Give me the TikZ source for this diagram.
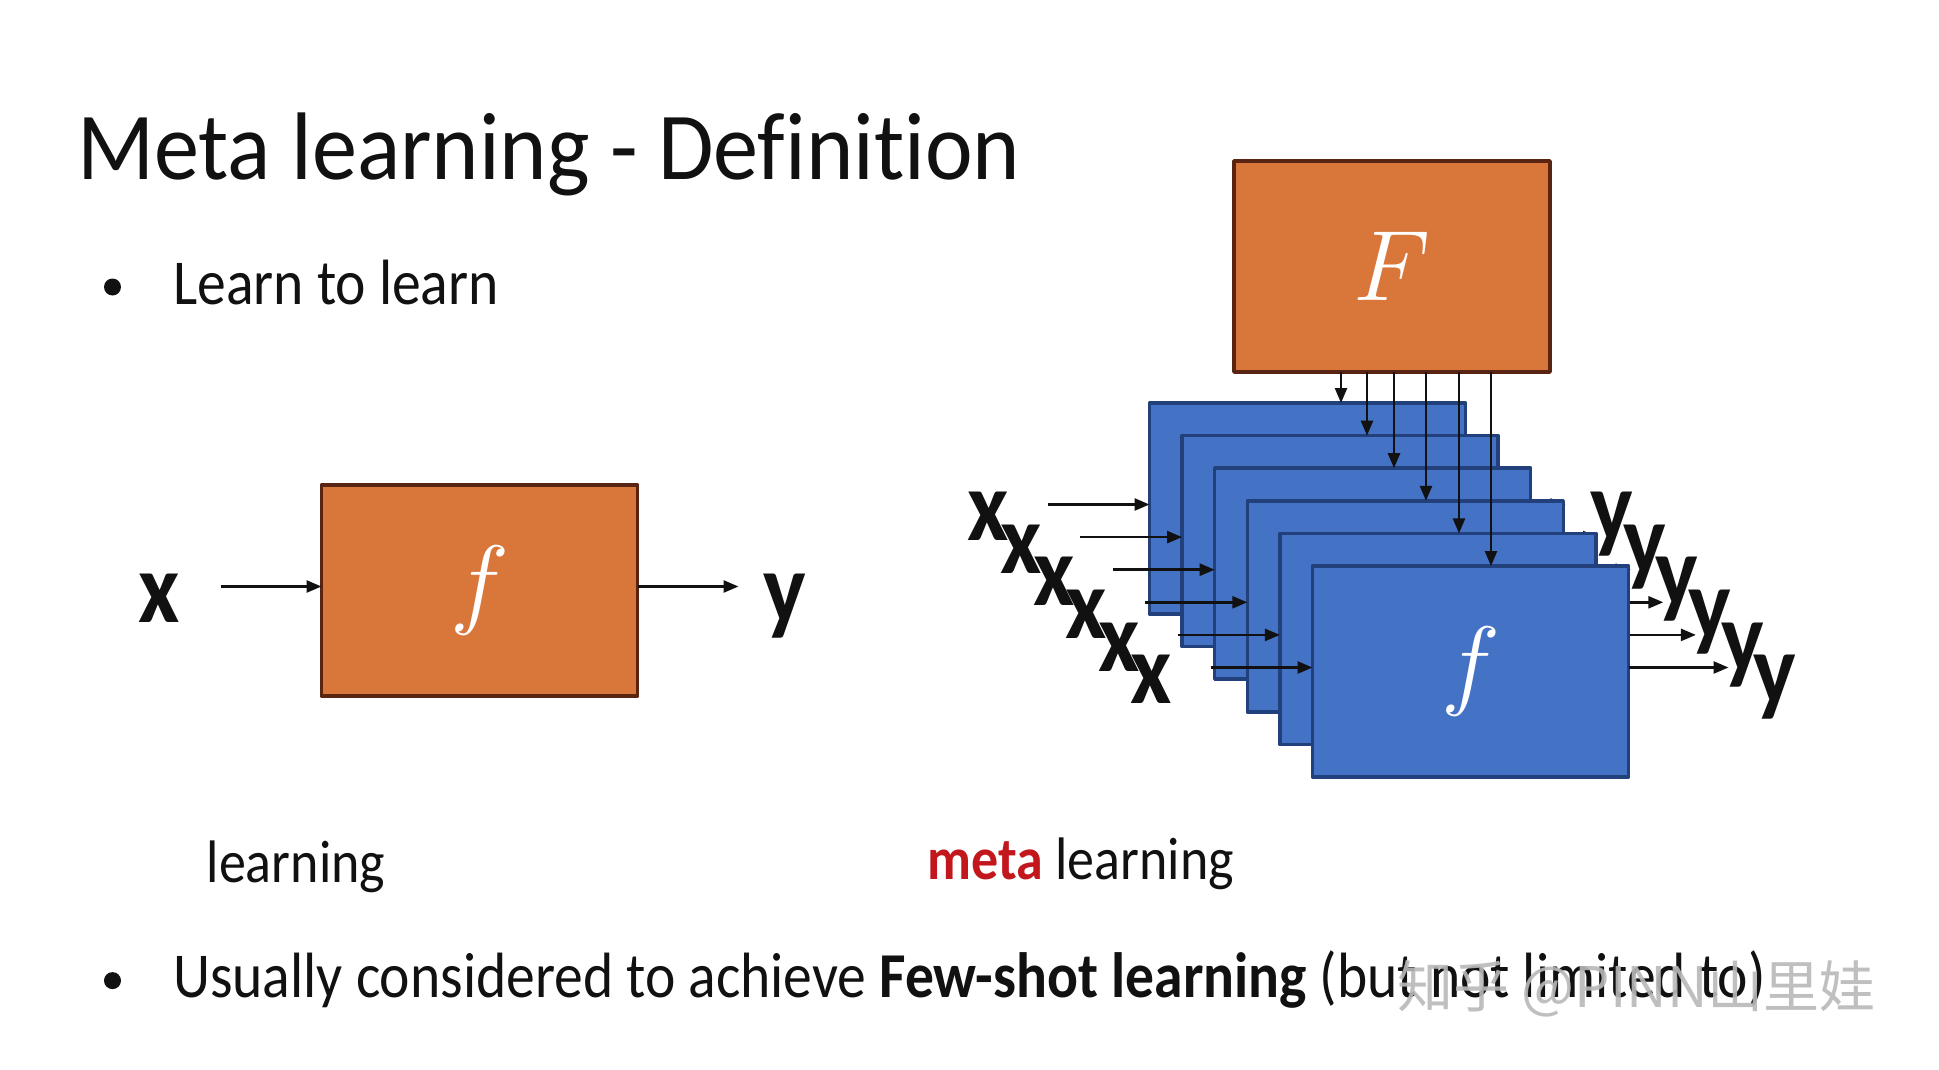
\RequirePackage{fix-cm}
\documentclass[tikz,border=0pt]{standalone}
\usepackage{fontspec}
\setmainfont{Carlito}[FakeStretch=0.90,Ligatures=NoCommon]
\newfontfamily\titlefont{Carlito}[FakeStretch=0.94,Ligatures=NoCommon]
\newfontfamily\cjkfont{Noto Sans CJK SC}
\usepackage{tikz}
\usetikzlibrary{arrows.meta,positioning}
\definecolor{boxorange}{HTML}{D9773A}
\definecolor{boxbrown}{HTML}{5A2412}
\definecolor{boxblue}{HTML}{4472C4}
\definecolor{boxnavy}{HTML}{22407C}
\definecolor{metared}{HTML}{C2171D}
\definecolor{ink}{HTML}{111111}
\tikzset{
    every picture/.style={line cap=round,line join=round},
    funcbox/.style={draw=boxbrown,fill=boxorange,line width=3.5pt,
      minimum width=316pt,minimum height=211pt,inner sep=0pt,outer sep=0pt,
      text=white,font=\fontsize{100}{100}\selectfont},
    taskbox/.style={funcbox,draw=boxnavy,fill=boxblue,line width=3.5pt},
    flowarrow/.style={-{Triangle[length=15pt,width=12pt]},draw=ink,
      line width=2.5pt,line cap=butt},
    iolabel/.style={text=ink,inner sep=0pt,text depth=0pt,
      font=\bfseries\fontsize{100}{100}\selectfont},
    slidetext/.style={anchor=base west,inner sep=0pt,text=ink,
      font=\fontsize{64}{72}\selectfont},
    captext/.style={slidetext,font=\fontsize{60}{68}\selectfont},
    bulletdot/.style={circle,fill=ink,inner sep=0pt,minimum size=17pt}
}
\begin{document}
\begin{tikzpicture}[x=1pt,y=-1pt]
  \fill[white] (0,0) rectangle (1939,1070);
  \useasboundingbox (0,0) rectangle (1939,1070);

  \node[slidetext,font=\titlefont\fontsize{96}{110}\selectfont] (title) at (77,179)
    {Meta learning - Definition};
  \node[bulletdot] (dot1) at (112.5,287) {};
  \node[slidetext] (point1) at (173,304) {Learn to learn};

  % learning
  \node[funcbox,anchor=north west] (learnf) at (321.5,485) {$f$};
  \coordinate (lin) at ([yshift=4pt]learnf.west);
  \coordinate (lout) at ([yshift=4pt]learnf.east);
  \coordinate[left=101pt of lin] (xsrc);
  \coordinate[right=101pt of lout] (ydst);
  \draw[flowarrow] (xsrc) -- (lin);
  \draw[flowarrow] (lout) -- (ydst);
  \node[iolabel,left=40pt of xsrc,yshift=-12pt] (xlabel) {x};
  \node[iolabel,right=25pt of ydst,yshift=-12pt] (ylabel) {y};
  \node[captext] (learncap) at (206.5,882) {learning};

  % meta learning
  \node[funcbox,anchor=north west] (metaF) at (1234,161) {$F$};
  \foreach \i/\ax in {0/1341,1/1367,2/1394,3/1426,4/1459,5/1491}{
    \node[taskbox,anchor=north west] (task\i) at ({1149.5+32.6*\i},{403+32.6*\i}) {};
    \coordinate (tin\i) at ([yshift=4pt]task\i.west);
    \coordinate (tout\i) at ([yshift=4pt]task\i.east);
    \coordinate[left=102pt of tin\i] (xsrc\i);
    \coordinate[right=100pt of tout\i] (ydst\i);
    \draw[flowarrow] (xsrc\i) -- (tin\i);
    \draw[flowarrow] (tout\i) -- (ydst\i);
    \draw[flowarrow] (\ax,0 |- metaF.south) -- (\ax,0 |- task\i.north);
  }
  \node[text=white,font=\fontsize{100}{100}\selectfont] (metaf) at (task5) {$f$};
  \foreach \i in {0,...,5}{
    \node[iolabel,left=38pt of xsrc\i,yshift=-12pt] (xin\i) {x};
    \node[iolabel,right=25pt of ydst\i,yshift=-12pt] (yout\i) {y};
  }
  \node[captext] (metacap) at (927.5,879)
    {\textcolor{metared}{\textbf{meta}} learning};

  \node[bulletdot] (dot2) at (112.5,980.6) {};
  \node[slidetext] (point2) at (173,997)
    {Usually considered to achieve \textbf{Few-shot learning} (but not limited to)};
  \node[anchor=west,inner sep=0pt,text=gray!55,opacity=0.9,
    font=\cjkfont\fontsize{56}{60}\selectfont] (mark) at (1397,989) {知乎 @PINN山里娃};
\end{tikzpicture}
\end{document}
